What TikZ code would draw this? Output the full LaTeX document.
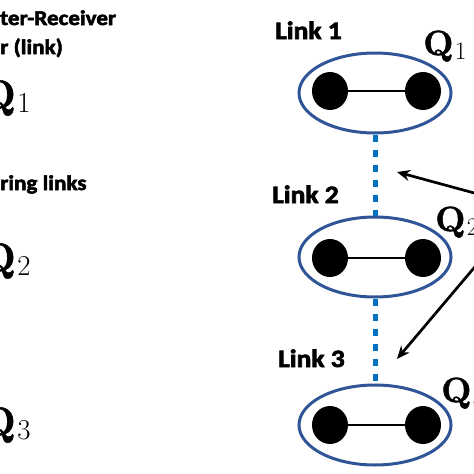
\documentclass[tikz,border=0pt]{standalone}
\usepackage{fontspec}
\usepackage{graphicx}
\newfontfamily\calfont{Carlito}[BoldFeatures={FakeBold=2.5}]
\newfontfamily\qfont{lmroman10-bold.otf}[FakeBold=1.2]
\usetikzlibrary{shapes.geometric,arrows.meta}
\definecolor{ellblue}{RGB}{47,85,151}
\definecolor{dotblue}{RGB}{0,112,192}
\newcommand\qsym[2]{{\qfont\fontsize{#1}{#1}\selectfont Q}{\fontsize{#1}{#1}\selectfont\kern0.04em\raisebox{-0.12em}{\fontsize{0.72\dimexpr #1pt\relax}{#1}\selectfont #2}}}
\begin{document}
\begin{tikzpicture}[x=1pt,y=-1pt,
  linkellipse/.style={ellipse, draw=ellblue, line width=3pt, minimum width=152pt, minimum height=80pt, inner sep=0pt},
  endpoint/.style={ellipse, fill=black, minimum width=36pt, minimum height=38pt, inner sep=0pt},
  pairline/.style={line width=2.7pt},
  interf/.style={draw=dotblue, line width=5pt, dash pattern=on 7pt off 8pt},
  arr/.style={line width=2.7pt, -{Stealth[length=13pt,width=11pt]}},
  lbl/.style={font=\calfont\bfseries\fontsize{25}{29}\selectfont, inner sep=0pt, anchor=base west},
  lefttext/.style={font=\calfont\bfseries\fontsize{21}{25}\selectfont, inner sep=0pt, anchor=base west},
  qlab/.style={inner sep=0pt, anchor=base west}]
\useasboundingbox (0,0) rectangle (474,474);
\clip (0,0) rectangle (474,474);
% left legend
\node[lefttext] (t1) at (0,25) {\scalebox{1.1}[1]{ter-Receiver}};
\node[lefttext] (t2) at (0,54) {\scalebox{1.1}[1]{r (link)}};
\node[lefttext] (t3) at (0,190) {\scalebox{1.1}[1]{ring links}};
\node[qlab] (ql1) at (-19,108) {\qsym{40}{1}};
\node[qlab] (ql2) at (-19,271) {\qsym{40}{2}};
\node[qlab] (ql3) at (-19,435) {\qsym{40}{3}};
% links
\node[linkellipse] (e1) at (375,93) {};
\node[linkellipse] (e2) at (375,257) {};
\node[linkellipse] (e3) at (375,425) {};
\node[endpoint] (a1) at (330,91) {};
\node[endpoint] (b1) at (423,91) {};
\node[endpoint] (a2) at (330,258) {};
\node[endpoint] (b2) at (423,258) {};
\node[endpoint] (a3) at (330,425) {};
\node[endpoint] (b3) at (423,425) {};
\draw[pairline] (a1) -- (b1);
\draw[pairline] (a2) -- (b2);
\draw[pairline] (a3) -- (b3);
\draw[interf] (e1.south) -- (e2.north);
\draw[interf] (e2.south) -- (e3.north);
% labels
\node[lbl] (l1) at (275,39) {\scalebox{1.1}[1]{Link 1}};
\node[lbl] (l2) at (272,203) {\scalebox{1.1}[1]{Link 2}};
\node[lbl] (l3) at (278,367) {\scalebox{1.1}[1]{Link 3}};
\node[qlab] (qr1) at (423,55) {\qsym{35}{1}};
\node[qlab] (qr2) at (435,231) {\qsym{35}{2}};
\node[qlab] (qr3) at (441,402) {\qsym{35}{3}};
% arrows
\coordinate (o1) at (500,200);
\coordinate (h1) at (397,172);
\coordinate (o2) at (495,243);
\coordinate (h2) at (397,359);
\draw[arr] (o1) -- (h1);
\draw[arr] (o2) -- (h2);
\end{tikzpicture}
\end{document}
